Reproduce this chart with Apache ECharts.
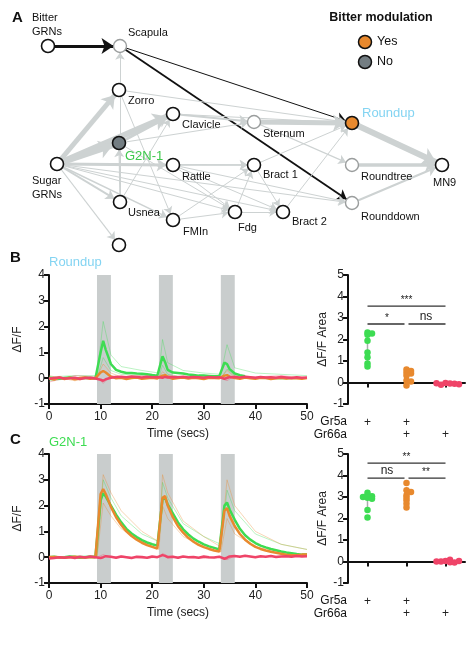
<!DOCTYPE html>
<html>
<head>
<meta charset="utf-8">
<script src="https://cdn.jsdelivr.net/npm/echarts@6/dist/echarts.min.js"></script>
<style>
html,body{margin:0;padding:0;background:#fff}
#main{width:474px;height:651px}
</style>
</head>
<body>
<div id="main"></div>
<script>
var FONT = '"Liberation Sans", Arial, sans-serif';
var GREEN = '#3ddc52', ORANGE = '#e8892e', PINK = '#ef4468', BLUE = '#84d4f2';
var EDGE = '#cdd2d2';

// ---- panel A: network ----
var nodeNames = ['Bitter GRNs','Scapula','Zorro','Clavicle','G2N-1','Sugar GRNs','Rattle','Usnea','FMIn','Fdg','Bract 1','Bract 2','Sternum','Roundup','Roundtree','Rounddown','MN9','n0'];
var nodeX = [48,120,119,173,119,57,173,120,173,235,254,283,254,352,352,352,442,119];
var nodeY = [46,46,90,114,143,164,165,202,220,212,165,212,122,123,165,203,165,245];
var nodeKind = ['plain','faint','plain','plain','no','plain','plain','plain','plain','plain','plain','plain','faint','yes','faint','faint','plain','plain'];

// source, target, width, colour ('k' black / 'g' grey)
var edges = [
  ['Bitter GRNs','Scapula',3,'k'],
  ['Scapula','Roundup',1,'k'],
  ['Scapula','Rounddown',1.8,'k'],
  ['Sugar GRNs','Zorro',5,'g'],
  ['Sugar GRNs','Clavicle',6,'g'],
  ['Sugar GRNs','G2N-1',6,'g'],
  ['Sugar GRNs','Rattle',3,'g'],
  ['Sugar GRNs','Usnea',2,'g'],
  ['Sugar GRNs','FMIn',1.5,'g'],
  ['Sugar GRNs','n0',1.2,'g'],
  ['Sugar GRNs','Bract 1',1,'g'],
  ['Sugar GRNs','Bract 2',1,'g'],
  ['Sugar GRNs','Rounddown',1,'g'],
  ['Sugar GRNs','Fdg',1,'g'],
  ['Usnea','Scapula',1,'g'],
  ['Zorro','Roundup',1,'g'],
  ['Zorro','FMIn',1,'g'],
  ['Clavicle','Sternum',2,'g'],
  ['Clavicle','Roundup',1,'g'],
  ['G2N-1','Clavicle',3,'g'],
  ['G2N-1','Sternum',1,'g'],
  ['G2N-1','Fdg',1,'g'],
  ['Usnea','G2N-1',1.2,'g'],
  ['Usnea','Clavicle',1,'g'],
  ['Rattle','Bract 1',1.5,'g'],
  ['Rattle','Fdg',1,'g'],
  ['Rattle','Bract 2',1,'g'],
  ['Rattle','Rounddown',1,'g'],
  ['FMIn','Fdg',1,'g'],
  ['FMIn','Bract 1',1,'g'],
  ['Fdg','Bract 2',1,'g'],
  ['Fdg','Bract 1',1,'g'],
  ['Bract 1','Bract 2',1,'g'],
  ['Bract 2','Roundup',1,'g'],
  ['Bract 1','Roundup',1,'g'],
  ['Sternum','Roundup',5,'g'],
  ['Sternum','Roundtree',1.2,'g'],
  ['Roundup','MN9',6,'g'],
  ['Roundtree','MN9',3.5,'g'],
  ['Rounddown','MN9',2,'g']
];

var labelOff = {
  'Bitter GRNs':[-16,-21], 'Scapula':[8,-13], 'Zorro':[9,11], 'Clavicle':[9,11], 'G2N-1':[6,13],
  'Sugar GRNs':[-25,24], 'Rattle':[9,12], 'Usnea':[8,11], 'FMIn':[10,12], 'Fdg':[3,16],
  'Bract 1':[9,10], 'Bract 2':[9,10], 'Sternum':[9,12], 'Roundup':[10,-10], 'Roundtree':[9,12],
  'Rounddown':[9,14], 'MN9':[-9,18]
};

// ---- panels B/C: traces ----
var times = [0,1,2,3,4,5,6,7,8,9,9.3,10,10.5,11,12,13,14,15,16,17,18,19,20,21,21.3,22,22.5,23,24,25,26,27,28,29,30,31,32,33,33.3,34,34.5,35,36,37,38,39,40,41,42,43,44,45,46,47,48,49,50];

var bGreen = [0.02,0,-0.02,0.01,0.03,0,-0.01,0.02,0.01,0,0.05,1.0,1.45,1.1,
  0.55,0.32,0.25,0.2,0.2,0.18,0.17,0.15,0.12,0.1,0.12,0.85,0.62,0.32,
  0.22,0.2,0.18,0.14,0.12,0.1,0.1,0.09,0.08,0.08,0.1,0.6,0.55,0.35,
  0.18,0.12,0.08,null,null,null,null,null,null,null,null,null,null,null,null];
var bOrange = [0,-0.05,0.03,-0.03,0.02,-0.04,0.01,0.03,-0.02,0,0.02,0.22,0.28,0.22,
  0.06,0,0.02,-0.03,0.01,0.03,-0.02,0,0.02,-0.01,0,0.1,0.12,0.05,
  -0.02,0.01,0.03,-0.01,0.02,0,-0.03,0.02,0.01,0,0.02,0.1,0.12,0.06,
  0.01,-0.02,0.03,0,-0.02,0.02,0.01,-0.03,0,0.02,-0.01,0.01,0,-0.02,0.01];
var bPink = [-0.02,0.01,0.03,-0.01,0,0.02,-0.03,0.01,0.02,-0.01,0,-0.06,-0.1,-0.04,
  0.02,0.05,0.06,0.04,0.07,0.05,0.03,0.06,0.04,0.05,0.04,0.02,0.05,0.03,
  0.05,0.04,0.06,0.03,0.05,0.04,0.02,0.05,0.03,0.04,0.02,-0.02,0.01,0.04,
  0.05,0.03,0.06,0.04,0.02,0.05,0.03,0.04,0.02,0.05,0.03,0.01,0.04,0.02,0.03];

var cGreen = [0,0.02,-0.01,0,0.03,0.01,-0.02,0,0.02,0.01,0.05,2.2,2.48,2.35,
  2.0,1.65,1.35,1.1,0.92,0.78,0.66,0.57,0.5,0.45,0.45,2.25,2.3,2.05,
  1.7,1.35,1.08,0.88,0.72,0.6,0.5,0.42,0.36,0.3,0.3,2.0,2.12,1.85,
  1.45,1.1,0.85,0.68,0.55,0.45,0.38,0.32,0.27,0.22,0.18,0.15,0.12,0.1,0.1];
var cOrange = [0,0.01,0,-0.02,0,0.02,0,-0.01,0.01,0,0.05,2.45,2.64,2.45,
  1.95,1.55,1.25,1.0,0.82,0.68,0.56,0.47,0.4,0.34,0.33,2.3,2.37,2.0,
  1.55,1.2,0.95,0.75,0.6,0.48,0.39,0.32,0.26,0.22,0.22,1.8,1.9,1.6,
  1.2,0.9,0.68,0.52,0.4,0.32,0.26,0.21,0.17,0.13,0.1,0.08,0.08,0.1,0.1];
var cPink = [-0.05,-0.03,0,-0.02,0.01,-0.03,0.02,-0.01,0.03,0,0.02,-0.03,0,0.04,
  0.02,-0.02,0.03,0,-0.03,0.02,0.01,-0.02,0.03,0,0.02,0.08,0.05,0,
  0.02,-0.02,0.03,0,0.01,-0.02,0.03,0,-0.01,0.02,0,-0.06,-0.02,0.03,
  0.05,0.02,0.06,0.03,0,0.04,0.02,0.05,0.01,0.03,0.04,0.02,0.05,0.03,0.04];

// single-fly traces (faint)
var tFaint = [0,5,9.3,10.5,12,14,18,21.3,22,23,26,30,33.3,34.5,36,40,45,50];
var bGreenHi = [0.05,0.1,0.1,2.2,0.9,0.45,0.3,0.2,1.5,0.6,0.3,0.2,0.15,1.3,0.4,0.2,0.15,0.1];
var bGreenLo = [-0.1,0,0,0.8,0.3,0.15,0.1,0.05,0.5,0.15,0.05,0,0,0.35,0.1,0,-0.05,0];
var bOrangeHi = [0.1,-0.1,0.05,0.55,0.2,0.05,0,0.05,0.25,0.1,0,0.05,0,0.3,0.05,0,0.05,0];
var bPinkFaint = [-0.15,0.1,0.05,-0.2,0.1,0.05,0.1,0.05,0,0.1,0.05,0.1,0,-0.1,0.1,0.05,0.1,0];
var cGreenHi = [0,0.05,0.05,3.0,2.3,1.6,0.9,0.6,2.9,2.3,1.3,0.8,0.5,2.6,1.8,0.9,0.5,0.3];
var cOrangeHi = [0,0,0.05,3.2,2.5,1.8,1.0,0.6,3.2,2.5,1.4,0.8,0.4,3.0,2.0,1.0,0.5,0.3];
var cOrangeLo = [0,0,0,2.1,1.6,1.1,0.6,0.3,2.0,1.5,0.8,0.4,0.2,1.5,0.9,0.4,0.2,0.05];
var cPinkFaint = [0.05,-0.05,0,0.1,0,0.05,-0.05,0,0.15,0.05,0,-0.05,0,-0.1,0.05,0,0.05,0.1];

var stimOn = [9.3, 21.3, 33.3];
var stimOff = [12, 24, 36];

// ---- dot plots ----
var gr5a = ['+', '+', ''];
var gr66a = ['', '+', '+'];
var bDotGreen = [2.33, 2.28, 2.22, 1.94, 1.40, 1.17, 0.88, 0.75];
var bDotOrange = [0.61, 0.54, 0.46, 0.42, 0.33, 0.09, 0.05, -0.14];
var bDotPink = [-0.02, -0.05, -0.1, -0.06, -0.03, -0.08];
var cDotGreen = [3.2, 3.08, 3.03, 3.0, 2.97, 2.92, 2.4, 2.05];
var cDotOrange = [3.65, 3.31, 3.23, 3.08, 2.97, 2.85, 2.69, 2.51];
var cDotPink = [0.02, 0.08, -0.03, 0, -0.05, 0, 0.02];
// [from, to, height, text]
var bSig = [[0, 2, 3.55, '***'], [0, 1, 2.72, '*'], [1, 2, 2.72, 'ns']];
var cSig = [[0, 2, 4.58, '**'], [0, 1, 3.88, 'ns'], [1, 2, 3.88, '**']];

// ------------------------------------------------------------
var chart = echarts.init(document.getElementById('main'));

function zip(ts, vs) {
  var out = [];
  for (var i = 0; i < ts.length; i++) if (vs[i] !== null) out.push([ts[i], vs[i]]);
  return out;
}
function mean(a) { return a.reduce(function (s, v) { return s + v; }, 0) / a.length; }
function sd(a) {
  var m = mean(a);
  return Math.sqrt(a.reduce(function (s, v) { return s + (v - m) * (v - m); }, 0) / (a.length - 1));
}
// simple beeswarm offsets (pixels) so dots do not sit on top of each other
function swarm(vals, pxPerUnit) {
  var placed = [];
  return vals.map(function (v) {
    var y = v * pxPerUnit;
    for (var k = 0; k < 20; k++) {
      var off = (k % 2 ? 1 : -1) * Math.ceil(k / 2) * 4.5;
      var hit = placed.some(function (p) { return Math.abs(p[0] - off) < 4.5 && Math.abs(p[1] - y) < 2; });
      if (!hit) { placed.push([off, y]); return off; }
    }
    return 0;
  });
}

var axisCol = '#111';
function lineX(g) {
  return {
    gridIndex: g, type: 'value', min: 0, max: 50, interval: 10,
    name: 'Time (secs)', nameLocation: 'middle', nameGap: 24,
    nameTextStyle: { fontSize: 12, color: '#222', fontFamily: FONT },
    axisLine: { onZero: false, lineStyle: { color: axisCol, width: 2 } },
    axisTick: { show: true, length: 5, lineStyle: { color: axisCol, width: 2 } },
    axisLabel: { fontSize: 12, color: '#222', fontFamily: FONT, margin: 7 },
    splitLine: { show: false }
  };
}
function lineY(g) {
  return {
    gridIndex: g, type: 'value', min: -1, max: 4, interval: 1,
    name: 'ΔF/F', nameLocation: 'middle', nameGap: 18, nameRotate: 90,
    nameTextStyle: { fontSize: 12, color: '#222', fontFamily: FONT },
    axisLine: { show: true, lineStyle: { color: axisCol, width: 2 } },
    axisTick: { show: true, length: 5, lineStyle: { color: axisCol, width: 2 } },
    axisLabel: { fontSize: 12, color: '#222', fontFamily: FONT, margin: 4 },
    splitLine: { show: false }
  };
}
function dotX(g) {
  return {
    gridIndex: g, type: 'category', data: ['0', '1', '2'], boundaryGap: true,
    axisLine: { lineStyle: { color: axisCol, width: 2 } },
    axisTick: { show: true, alignWithLabel: true, length: 5, lineStyle: { color: axisCol, width: 2 } },
    axisLabel: {
      interval: 0, margin: 12, fontSize: 12, lineHeight: 12.5, color: '#222', fontFamily: FONT,
      formatter: function (v, i) { return (gr5a[i] || ' ') + '\n' + (gr66a[i] || ' '); }
    },
    splitLine: { show: false }
  };
}
function dotY(g) {
  return {
    gridIndex: g, type: 'value', min: -1, max: 5, interval: 1,
    name: 'ΔF/F Area', nameLocation: 'middle', nameGap: 19, nameRotate: 90,
    nameTextStyle: { fontSize: 12, color: '#222', fontFamily: FONT },
    axisLine: { show: true, lineStyle: { color: axisCol, width: 2 } },
    axisTick: { show: true, length: 5, lineStyle: { color: axisCol, width: 2 } },
    axisLabel: { fontSize: 12, color: '#222', fontFamily: FONT, margin: 4 },
    splitLine: { show: false }
  };
}

function faint(g, ts, vs, col, withStim) {
  var s = {
    type: 'line', xAxisIndex: g, yAxisIndex: g, data: zip(ts, vs), symbol: 'none', z: 2,
    lineStyle: { color: col, width: 1, opacity: 0.35 }, silent: true
  };
  if (withStim) {
    s.markArea = {
      silent: true, itemStyle: { color: '#c9cdcd' },
      data: stimOn.map(function (t, i) { return [{ xAxis: t }, { xAxis: stimOff[i] }]; })
    };
  }
  return s;
}
function meanLine(g, vs, col) {
  return {
    type: 'line', xAxisIndex: g, yAxisIndex: g, data: zip(times, vs), symbol: 'none', z: 3,
    lineStyle: { color: col, width: 2.5 }, silent: true
  };
}
function dots(g, idx, vals, col) {
  var offs = swarm(vals, 129 / 6);
  return {
    type: 'scatter', xAxisIndex: g, yAxisIndex: g, symbolSize: 6.5, z: 4,
    itemStyle: { color: col, opacity: 1 },
    data: vals.map(function (v, i) { return { value: [idx, v], symbolOffset: [offs[i], 0] }; })
  };
}
function errBars(g, groups) {
  return {
    type: 'custom', xAxisIndex: g, yAxisIndex: g, z: 3, encode: { x: 0, y: [1, 2] },
    data: groups.map(function (a, i) { var m = mean(a), s = sd(a); return [i, m - s, m + s]; }),
    renderItem: function (params, api) {
      var p1 = api.coord([api.value(0), api.value(1)]);
      var p2 = api.coord([api.value(0), api.value(2)]);
      return { type: 'line', shape: { x1: p1[0], y1: p1[1], x2: p2[0], y2: p2[1] }, style: { stroke: '#a9acac', lineWidth: 1.5 } };
    }
  };
}
function brackets(g, sig) {
  return {
    type: 'custom', xAxisIndex: g, yAxisIndex: g, z: 5, encode: { x: [0, 1], y: 2 },
    data: sig.map(function (s) { return [s[0], s[1], s[2]]; }),
    renderItem: function (params, api) {
      var s = sig[params.dataIndex];
      var a = api.coord([s[0], s[2]]), b = api.coord([s[1], s[2]]);
      var gl = s[0] === 1 ? 2 : 0, gr = s[1] === 1 ? 2 : 0;
      return {
        type: 'group', children: [
          { type: 'line', shape: { x1: a[0] + gl, y1: a[1], x2: b[0] - gr, y2: b[1] }, style: { stroke: '#333', lineWidth: 1.3 } },
          { type: 'text', style: { text: s[3], x: (a[0] + b[0]) / 2, y: a[1] - 1, align: 'center', verticalAlign: 'bottom', textAlign: 'center', textVerticalAlign: 'bottom', fontSize: s[3] === 'ns' ? 12 : 10, fill: '#222', fontFamily: FONT } }
        ]
      };
    }
  };
}

// graph nodes & links
var nodeStyle = {
  plain: { color: '#fff', borderColor: '#111', borderWidth: 1.6 },
  faint: { color: '#fff', borderColor: '#9a9d9d', borderWidth: 1.4 },
  yes: { color: ORANGE, borderColor: '#111', borderWidth: 1.6 },
  no: { color: '#737d82', borderColor: '#111', borderWidth: 1.6 }
};
var graphNodes = nodeNames.map(function (n, i) {
  var off = labelOff[n];
  var col = n === 'G2N-1' ? '#3cc84a' : (n === 'Roundup' ? BLUE : '#111');
  var big = n === 'G2N-1' || n === 'Roundup';
  return {
    name: n, value: [nodeX[i], nodeY[i]],
    itemStyle: nodeStyle[nodeKind[i]],
    label: off ? {
      show: true, position: 'inside', align: 'left', verticalAlign: 'middle', offset: off,
      formatter: n.replace(' GRNs', '\nGRNs'), color: col, fontSize: big ? 13 : 11,
      lineHeight: 14.5, fontFamily: FONT
    } : { show: false }
  };
});
var graphLinks = edges.map(function (e) {
  var black = e[3] === 'k';
  return {
    source: e[0], target: e[1],
    symbol: ['none', 'arrow'],
    symbolSize: [0, black ? (e[2] > 2 ? 12 : 9) : 6 + e[2] * 1.3],
    lineStyle: { width: e[2], color: black ? '#111' : EDGE, opacity: 1, curveness: 0 }
  };
});

var txt = function (t, x, y, opts) {
  opts = opts || {};
  return {
    type: 'text', x: x, y: y, silent: true,
    style: {
      text: t, fill: opts.color || '#111', fontFamily: FONT, fontSize: opts.size || 12,
      fontWeight: opts.bold ? 'bold' : 'normal',
      align: opts.align || 'left', verticalAlign: 'middle',
      textAlign: opts.align || 'left', textVerticalAlign: 'middle'
    }
  };
};

var option = {
  animation: false,
  backgroundColor: '#fff',
  grid: [
    { left: 0, top: 0, width: 474, height: 651 },
    { left: 49, top: 275, width: 258, height: 129 },
    { left: 348, top: 275, width: 117, height: 129 },
    { left: 49, top: 454, width: 258, height: 129 },
    { left: 348, top: 454, width: 117, height: 129 }
  ],
  xAxis: [
    { gridIndex: 0, type: 'value', min: 0, max: 474, show: false },
    lineX(1), dotX(2), lineX(3), dotX(4)
  ],
  yAxis: [
    { gridIndex: 0, type: 'value', min: 0, max: 651, inverse: true, show: false },
    lineY(1), dotY(2), lineY(3), dotY(4)
  ],
  graphic: [
    txt('A', 12, 18, { bold: true, size: 15 }),
    txt('Bitter modulation', 381, 18, { bold: true, size: 12.5, align: 'center' }),
    { type: 'circle', shape: { cx: 365, cy: 42, r: 6.5 }, style: { fill: ORANGE, stroke: '#111', lineWidth: 1.5 } },
    txt('Yes', 377, 42, { size: 12.5 }),
    { type: 'circle', shape: { cx: 365, cy: 62, r: 6.5 }, style: { fill: '#737d82', stroke: '#111', lineWidth: 1.5 } },
    txt('No', 377, 62, { size: 12.5 }),
    txt('B', 10, 258, { bold: true, size: 15 }),
    txt('Roundup', 49, 262, { color: BLUE, size: 13 }),
    txt('C', 10, 440, { bold: true, size: 15 }),
    txt('G2N-1', 49, 442, { color: GREEN, size: 13 }),
    txt('Gr5a', 347, 422, { align: 'right' }),
    txt('Gr66a', 347, 434.5, { align: 'right' }),
    txt('Gr5a', 347, 601, { align: 'right' }),
    txt('Gr66a', 347, 613.5, { align: 'right' })
  ],
  series: [
    {
      type: 'graph', coordinateSystem: 'cartesian2d', xAxisIndex: 0, yAxisIndex: 0,
      symbol: 'circle', symbolSize: 13, z: 5, silent: true,
      edgeSymbol: ['none', 'arrow'],
      data: graphNodes, links: graphLinks,
      emphasis: { disabled: true }
    },
    // B traces
    faint(1, tFaint, bGreenHi, GREEN, true),
    faint(1, tFaint, bGreenLo, GREEN),
    faint(1, tFaint, bOrangeHi, ORANGE),
    faint(1, tFaint, bPinkFaint, PINK),
    meanLine(1, bGreen, GREEN),
    meanLine(1, bOrange, ORANGE),
    meanLine(1, bPink, PINK),
    // B dots
    errBars(2, [bDotGreen, bDotOrange, bDotPink]),
    dots(2, 0, bDotGreen, GREEN),
    dots(2, 1, bDotOrange, ORANGE),
    dots(2, 2, bDotPink, PINK),
    brackets(2, bSig),
    // C traces
    faint(3, tFaint, cGreenHi, GREEN, true),
    faint(3, tFaint, cOrangeHi, ORANGE),
    faint(3, tFaint, cOrangeLo, ORANGE),
    faint(3, tFaint, cPinkFaint, PINK),
    meanLine(3, cGreen, GREEN),
    meanLine(3, cOrange, ORANGE),
    meanLine(3, cPink, PINK),
    // C dots
    errBars(4, [cDotGreen, cDotOrange, cDotPink]),
    dots(4, 0, cDotGreen, GREEN),
    dots(4, 1, cDotOrange, ORANGE),
    dots(4, 2, cDotPink, PINK),
    brackets(4, cSig)
  ]
};
chart.setOption(option);
</script>
</body>
</html>
